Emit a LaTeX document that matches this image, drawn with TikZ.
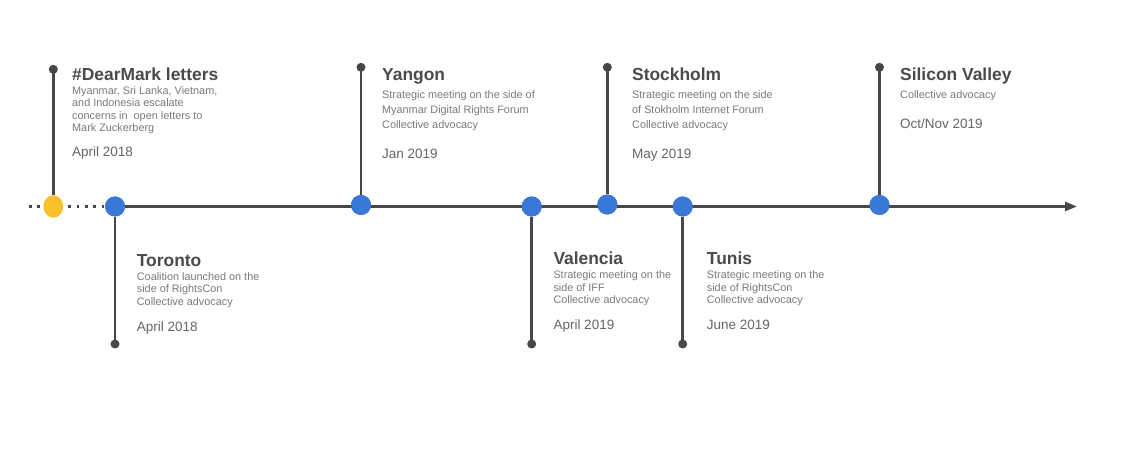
\documentclass[tikz,border=0pt]{standalone}
\usepackage{fontspec}
\setmainfont{Liberation Sans}
\usetikzlibrary{arrows.meta,shapes.geometric}
\definecolor{lineg}{HTML}{474747}
\definecolor{titleg}{HTML}{4A4A4A}
\definecolor{descg}{HTML}{7A7A7A}
\definecolor{dateg}{HTML}{666666}
\definecolor{dotblue}{HTML}{3A78D8}
\definecolor{dotyellow}{HTML}{F9BF2C}
\tikzset{
  axisline/.style={draw=lineg, line width=2.6pt},
  stemline/.style={draw=lineg, line width=2.8pt},
  dotline/.style={draw=lineg, line width=2.6pt, dash pattern=on 2.6pt off 5.8pt},
  bluedot/.style={circle, fill=dotblue, draw=none, minimum size=20pt, inner sep=0pt},
  yellowdot/.style={ellipse, fill=dotyellow, draw=none, minimum width=19.5pt, minimum height=22pt, inner sep=0pt},
  enddot/.style={circle, fill=lineg, draw=none, minimum size=9pt, inner sep=0pt},
  ttl/.style={anchor=base west, inner sep=0pt, text=titleg, font=\fontsize{17.4}{20}\selectfont\bfseries},
  dsc/.style={anchor=base west, inner sep=0pt, text=descg, font=\fontsize{10.85}{13}\selectfont},
  dte/.style={anchor=base west, inner sep=0pt, text=dateg, font=\fontsize{13.5}{16}\selectfont},
}
\begin{document}
\begin{tikzpicture}[x=1pt,y=-1pt]
\useasboundingbox[fill=white] (0,0) rectangle (1122,462);

% axis
\coordinate (dstart) at (29,206.5);
\coordinate (aend) at (1077,206.5);
\node[yellowdot] (y0) at (53.3,206.5) {};
\node[bluedot] (b1) at (115,206.5) {};
\node[bluedot] (b2) at (361,205) {};
\node[bluedot] (b3) at (531.7,206.5) {};
\node[bluedot] (b4) at (607.3,204.5) {};
\node[bluedot] (b5) at (682.7,206.5) {};
\node[bluedot] (b6) at (879.5,205) {};

\draw[axisline, -{Triangle[length=12pt,width=9pt]}] (b1.center) -- (aend);
\draw[dotline] (dstart) -- (y0.west);
\draw[dotline] ([xshift=5pt]y0.east) -- (b1.west);

% end dots
\node[enddot] (t0) at (53.3,69.3) {};
\node[enddot] (t1) at (115,344) {};
\node[enddot] (t2) at (361,67.3) {};
\node[enddot] (t3) at (531.7,344) {};
\node[enddot] (t4) at (607.3,67.3) {};
\node[enddot] (t5) at (682.7,344) {};
\node[enddot] (t6) at (879.5,67.3) {};

% stems
\draw[stemline] (t0.center) -- (y0.north);
\draw[stemline] (t1.center) -- (b1.south);
\draw[stemline] (t2.center) -- (b2.north);
\draw[stemline] (t3.center) -- (b3.south);
\draw[stemline] (t4.center) -- (b4.north);
\draw[stemline] (t5.center) -- (b5.south);
\draw[stemline] (t6.center) -- (b6.north);

% redraw dots on top
\node[yellowdot] (y0top) at (y0.center) {};
\foreach \n in {b1,b2,b3,b4,b5,b6} {\node[bluedot] (\n top) at (\n.center) {};}

% DearMark
\node[ttl] (n0t) at (72,80.5) {\#DearMark letters};
\node[dsc] (n0a) at (72,94.5) {Myanmar, Sri Lanka, Vietnam,};
\node[dsc] (n0b) at (72,107) {and Indonesia escalate};
\node[dsc] (n0c) at (72,119.5) {concerns in\ \ open letters to};
\node[dsc] (n0d) at (72,132) {Mark Zuckerberg};
\node[dte] (n0e) at (72,157) {April 2018};

% Toronto
\node[ttl] (n1t) at (136.7,266.7) {Toronto};
\node[dsc] (n1a) at (136.7,280.4) {Coalition launched on the};
\node[dsc] (n1b) at (136.7,293) {side of RightsCon};
\node[dsc] (n1c) at (136.7,305.6) {Collective advocacy};
\node[dte] (n1e) at (136.7,331.7) {April 2018};

% Yangon
\node[ttl] (n2t) at (382,80.5) {Yangon};
\node[dsc] (n2a) at (382,98.7) {Strategic meeting on the side of};
\node[dsc] (n2b) at (382,113.7) {Myanmar Digital Rights Forum};
\node[dsc] (n2c) at (382,128.7) {Collective advocacy};
\node[dte] (n2e) at (382,158.7) {Jan 2019};

% Valencia
\node[ttl] (n3t) at (553.3,265) {Valencia};
\node[dsc] (n3a) at (553.3,278.4) {Strategic meeting on the};
\node[dsc] (n3b) at (553.3,291.2) {side of IFF};
\node[dsc] (n3c) at (553.3,304) {Collective advocacy};
\node[dte] (n3e) at (553.3,330) {April 2019};

% Stockholm
\node[ttl] (n4t) at (632,80.5) {Stockholm};
\node[dsc] (n4a) at (632,98.7) {Strategic meeting on the side};
\node[dsc] (n4b) at (632,113.7) {of Stokholm Internet Forum};
\node[dsc] (n4c) at (632,128.7) {Collective advocacy};
\node[dte] (n4e) at (632,158.7) {May 2019};

% Tunis
\node[ttl] (n5t) at (706.7,265) {Tunis};
\node[dsc] (n5a) at (706.7,278.4) {Strategic meeting on the};
\node[dsc] (n5b) at (706.7,291.2) {side of RightsCon};
\node[dsc] (n5c) at (706.7,304) {Collective advocacy};
\node[dte] (n5e) at (706.7,330) {June 2019};

% Silicon Valley
\node[ttl] (n6t) at (900,80.5) {Silicon Valley};
\node[dsc] (n6a) at (900,98.7) {Collective advocacy};
\node[dte] (n6e) at (900,129) {Oct/Nov 2019};
\end{tikzpicture}
\end{document}
